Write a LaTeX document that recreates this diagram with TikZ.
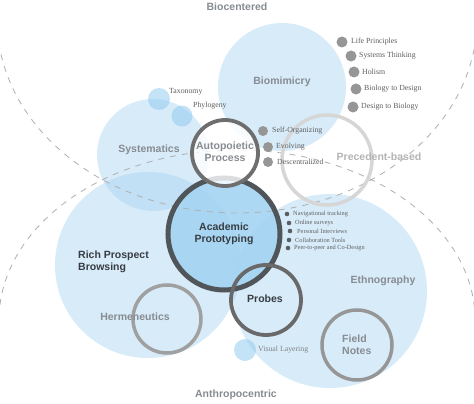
\documentclass[tikz,border=0pt]{standalone}
\usepackage{fontspec}
\setmainfont{Liberation Serif}
\setsansfont{Liberation Sans}
\definecolor{bubc}{RGB}{168,212,243}
\definecolor{smallc}{RGB}{140,200,240}
\definecolor{acadc}{RGB}{163,212,242}
\definecolor{dashc}{RGB}{175,175,175}
\definecolor{darktxt}{RGB}{55,60,66}
\definecolor{midtxt}{RGB}{135,140,146}
\definecolor{lighttxt}{RGB}{180,180,180}
\definecolor{listtxt}{RGB}{95,95,95}
\definecolor{dotc}{RGB}{150,150,150}
\definecolor{mdotc}{RGB}{90,95,100}
\begin{document}
\begin{tikzpicture}[x=1pt,y=1pt,
  bubble/.style={circle, inner sep=0pt, draw=none, fill=bubc, fill opacity=0.45},
  smallbub/.style={circle, inner sep=0pt, draw=none, fill=smallc, fill opacity=0.5},
  ring/.style={circle, inner sep=0pt, line width=3.8pt},
  dot/.style={circle, inner sep=0pt, fill=dotc, draw=none},
  mdot/.style={circle, inner sep=0pt, fill=mdotc, draw=none, minimum size=4.6},
  bigtxt/.style={font=\fontsize{10.5}{12}\selectfont\sffamily\bfseries, align=center, inner sep=0pt},
  listtxt/.style={font=\fontsize{7.8}{9}\selectfont, text=listtxt, anchor=west, inner sep=0pt},
  smalltxt/.style={font=\fontsize{6.3}{7}\selectfont, text=listtxt, anchor=west, inner sep=0pt},
  dashline/.style={draw=dashc, line width=0.8pt, dash pattern=on 6pt off 6pt}]
\useasboundingbox (0,0) rectangle (474,-404);
\clip (0,0) rectangle (474,-404);
\fill[white] (0,0) rectangle (474,-404);

% light blue bubbles
\node[bubble, minimum size=128] (biom) at (282,-87) {};
\node[bubble, minimum size=112] (syst) at (153,-155) {};
\node[bubble, minimum size=186] (rich) at (148,-265) {};
\node[bubble, minimum size=194] (ethn) at (330,-291) {};
\node[smallbub, minimum size=22] (taxc) at (159,-99) {};
\node[smallbub, minimum size=21] (phyc) at (182,-116) {};
\node[smallbub, minimum size=22] (visc) at (245,-350) {};

% academic prototyping fill
\node[circle, inner sep=0pt, minimum size=112, fill=acadc, fill opacity=0.9] (acadfill) at (224,-234) {};

% dashed ellipse arcs
\draw[dashline] (237,-19) ++(187:240 and 194) arc[start angle=187, end angle=353, x radius=240, y radius=194];
\draw[dashline] (237,-320) ++(-4:238 and 170) arc[start angle=-4, end angle=184, x radius=238, y radius=170];

% rings
\node[ring, minimum size=90, draw={rgb,255:red,214;green,214;blue,214}, line width=3.5pt] (prec) at (327,-160) {};
\node[ring, minimum size=68, draw={rgb,255:red,160;green,160;blue,160}, line width=3.5pt] (herm) at (167,-319) {};
\node[ring, minimum size=70, draw={rgb,255:red,150;green,150;blue,150}, line width=3.5pt] (field) at (357,-345) {};
\node[ring, minimum size=112, draw={rgb,255:red,80;green,85;blue,90}, line width=5pt] (acad) at (224,-234) {};
\node[ring, minimum size=70, draw={rgb,255:red,105;green,105;blue,105}] (prob) at (266,-300) {};
\node[ring, minimum size=66, draw={rgb,255:red,110;green,110;blue,110}, fill=white, fill opacity=0.8] (auto) at (225,-153) {};

% big labels
\node[bigtxt, text=midtxt] (tbio) at (237,-7) {Biocentered};
\node[bigtxt, text=midtxt] (tanth) at (236,-395) {Anthropocentric};
\node[bigtxt, text=midtxt] (tbiom) at (282,-82) {Biomimicry};
\node[bigtxt, text=midtxt] (tsyst) at (149,-150) {Systematics};
\node[bigtxt, text=midtxt] (tauto) at (225,-152) {Autopoietic\\Process};
\node[bigtxt, text=lighttxt] (tprec) at (379,-157) {Precedent-based};
\node[bigtxt, text=darktxt] (tacad) at (224,-234) {Academic\\Prototyping};
\node[bigtxt, text=darktxt, align=left, anchor=west] (trich) at (78,-262) {Rich Prospect\\Browsing};
\node[bigtxt, text=midtxt] (therm) at (135,-317) {Hermeneutics};
\node[bigtxt, text=darktxt] (tprob) at (265,-299) {Probes};
\node[bigtxt, text=midtxt] (tethn) at (383,-281) {Ethnography};
\node[bigtxt, text=midtxt, align=left, anchor=west] (tfield) at (342,-345) {Field\\Notes};

% right list
\node[dot, minimum size=11] (d1) at (342,-42) {};
\node[listtxt] (l1) at (351,-42) {Life Principles};
\node[dot, minimum size=11] (d2) at (351,-56) {};
\node[listtxt] (l2) at (359,-56) {Systems Thinking};
\node[dot, minimum size=11] (d3) at (354,-72) {};
\node[listtxt] (l3) at (362,-72) {Holism};
\node[dot, minimum size=11] (d4) at (356,-89) {};
\node[listtxt] (l4) at (364,-89) {Biology to Design};
\node[dot, minimum size=11] (d5) at (353,-107) {};
\node[listtxt] (l5) at (361,-107) {Design to Biology};

% autopoietic list
\node[dot, minimum size=10] (a1) at (263,-131) {};
\node[listtxt] (al1) at (272,-131) {Self-Organizing};
\node[dot, minimum size=10] (a2) at (268,-147) {};
\node[listtxt] (al2) at (276,-147) {Evolving};
\node[dot, minimum size=10] (a3) at (268,-162) {};
\node[listtxt] (al3) at (277,-162) {Descentralized};

% small labels
\node[listtxt] (ttax) at (169,-92) {Taxonomy};
\node[listtxt] (tphy) at (193,-106) {Phylogeny};
\node[listtxt, text={rgb,255:red,130;green,130;blue,135}] (tvis) at (258,-350) {Visual Layering};

% methods list
\node[mdot] (m1) at (287,-214) {};
\node[smalltxt] (ml1) at (293,-214) {Navigational tracking};
\node[mdot] (m2) at (289,-223) {};
\node[smalltxt] (ml2) at (295,-223) {Online surveys};
\node[mdot] (m3) at (290,-231) {};
\node[smalltxt] (ml3) at (297,-231) {Personal Interviews};
\node[mdot] (m4) at (289,-240) {};
\node[smalltxt] (ml4) at (295,-240) {Collaboration Tools};
\node[mdot] (m5) at (288,-248) {};
\node[smalltxt] (ml5) at (294,-248) {Peer-to-peer and Co-Design};
\end{tikzpicture}
\end{document}
